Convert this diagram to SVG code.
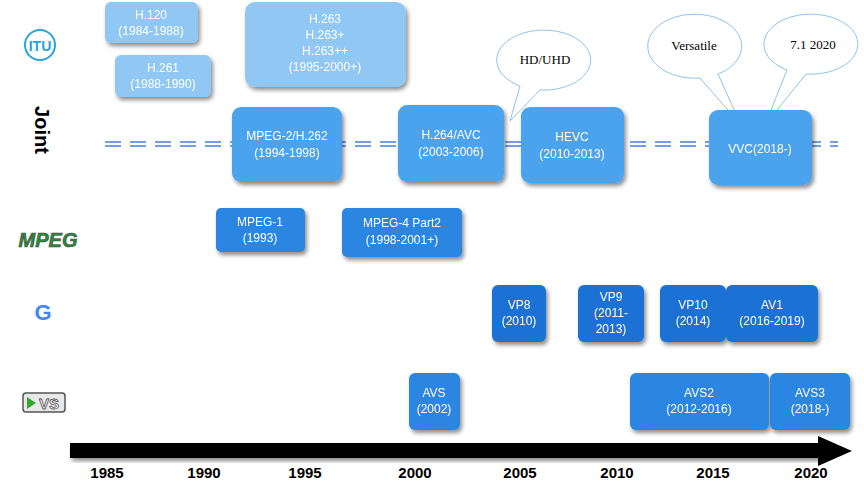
<svg xmlns="http://www.w3.org/2000/svg" width="864" height="493" viewBox="0 0 864 493">
<defs>
<filter id="sh" x="-20%" y="-20%" width="150%" height="150%"><feDropShadow dx="2" dy="3" stdDeviation="2" flood-color="#000" flood-opacity="0.45"/></filter>
</defs>
<style>
.t{font-family:"Liberation Sans",Arial,sans-serif;font-size:12px;fill:#fff;text-anchor:middle}
.l1{fill:#91c7f3}.l2{fill:#4ca3ee}.l3{fill:#2b86e0}.l4{fill:#1f72d4}
.c{fill:#fff;stroke:#8cc4ee;stroke-width:1}
.ct{font-family:"Liberation Serif",serif;font-size:13px;fill:#000;text-anchor:middle}
.y{font-family:"Liberation Sans",Arial,sans-serif;font-size:15px;font-weight:bold;fill:#000;text-anchor:middle}
.d{stroke:#4a7fe0;stroke-width:1.5;stroke-dasharray:16,9}
</style>
<g id="logos">
<circle cx="40" cy="45" r="15" fill="none" stroke="#29a3d8" stroke-width="2"/>
<text x="40" y="51" font-family="Liberation Sans,sans-serif" font-size="14" font-weight="bold" fill="#29a3d8" text-anchor="middle">ITU</text>
<text x="40" y="130" font-family="Liberation Sans,sans-serif" font-size="20" font-weight="bold" fill="#000" text-anchor="middle" transform="rotate(90 40 130)" dominant-baseline="middle">Joint</text>
<text x="48" y="247" font-family="Liberation Sans,sans-serif" font-size="20" font-weight="bold" font-style="italic" fill="#2a8a3a" stroke="#444" stroke-width="0.6" text-anchor="middle">MPEG</text>
<text x="43" y="320" font-family="Liberation Sans,sans-serif" font-size="22" font-weight="bold" fill="#4285f4" text-anchor="middle">G</text>
<rect x="23" y="393" width="42" height="19" rx="3" fill="#e8e8e8" stroke="#555" stroke-width="1.5"/>
<polygon points="27,397 36,403 27,409" fill="#2fa82f"/>
<text x="49" y="409" font-family="Liberation Sans,sans-serif" font-size="15" font-weight="bold" fill="#fff" stroke="#555" stroke-width="0.8" text-anchor="middle">VS</text>
</g>
<g id="connectors">
<line class="d" x1="105" y1="142" x2="838" y2="142"/>
<line class="d" x1="105" y1="146" x2="838" y2="146"/>
<rect x="70" y="443" width="752" height="15" fill="#000" filter="url(#sh)"/>
<polygon points="818,436 852,451 818,466" fill="#000"/>
</g>
<g id="callouts">
<path class="c" d="M520,86 A47,30 0 1 1 540,90 L510,121 Z"/>
<text class="ct" x="545" y="64" font-family="Liberation Sans,sans-serif">HD/UHD</text>
<path class="c" d="M700,78 A47,32 0 1 1 718,74 L741,125 Z"/>
<text class="ct" x="694" y="50">Versatile</text>
<path class="c" d="M787,70 A47,30 0 1 1 806,74 L765,125 Z"/>
<text class="ct" x="813" y="49">7.1 2020</text>
</g>
<g filter="url(#sh)">
<g id="h120"><rect class="l1" x="105" y="2" width="93" height="41" rx="6"/><text class="t" x="151" y="19">H.120</text><text class="t" x="151" y="35">(1984-1988)</text></g>
<g id="h261"><rect class="l1" x="115" y="55" width="96" height="42" rx="6"/><text class="t" x="163" y="72">H.261</text><text class="t" x="163" y="88">(1988-1990)</text></g>
<g id="h263"><rect class="l1" x="245" y="2" width="161" height="85" rx="10"/><text class="t" x="325" y="23">H.263</text><text class="t" x="325" y="39">H.263+</text><text class="t" x="325" y="55">H.263++</text><text class="t" x="325" y="71">(1995-2000+)</text></g>
<g id="mpeg2"><rect class="l2" x="232" y="107" width="110" height="75" rx="9"/><text class="t" x="287" y="140">MPEG-2/H.262</text><text class="t" x="287" y="157">(1994-1998)</text></g>
<g id="h264"><rect class="l2" x="398" y="105" width="106" height="77" rx="9"/><text class="t" x="451" y="139">H.264/AVC</text><text class="t" x="451" y="156">(2003-2006)</text></g>
<g id="hevc"><rect class="l2" x="521" y="107" width="103" height="76" rx="9"/><text class="t" x="572" y="141">HEVC</text><text class="t" x="572" y="158">(2010-2013)</text></g>
<g id="vvc"><rect class="l2" x="709" y="110" width="103" height="75" rx="9"/><text class="t" x="760" y="153">VVC(2018-)</text></g>
<g id="mpeg1"><rect class="l3" x="216" y="208" width="89" height="44" rx="5"/><text class="t" x="260" y="226">MPEG-1</text><text class="t" x="260" y="242">(1993)</text></g>
<g id="mpeg4"><rect class="l3" x="342" y="208" width="120" height="49" rx="5"/><text class="t" x="402" y="227">MPEG-4 Part2</text><text class="t" x="402" y="244">(1998-2001+)</text></g>
<g id="vp8"><rect class="l4" x="492" y="285" width="54" height="57" rx="6"/><text class="t" x="519" y="309">VP8</text><text class="t" x="519" y="325">(2010)</text></g>
<g id="vp9"><rect class="l4" x="578" y="285" width="66" height="57" rx="6"/><text class="t" x="611" y="301">VP9</text><text class="t" x="611" y="317">(2011-</text><text class="t" x="611" y="333">2013)</text></g>
<g id="vp10"><rect class="l4" x="660" y="285" width="66" height="57" rx="6"/><text class="t" x="693" y="309">VP10</text><text class="t" x="693" y="325">(2014)</text></g>
<g id="av1"><rect class="l4" x="726" y="285" width="92" height="57" rx="6"/><text class="t" x="772" y="309">AV1</text><text class="t" x="772" y="325">(2016-2019)</text></g>
<g id="avs"><rect class="l3" x="409" y="373" width="51" height="57" rx="6"/><text class="t" x="434" y="397">AVS</text><text class="t" x="434" y="413">(2002)</text></g>
<g id="avs2"><rect class="l3" x="630" y="373" width="139" height="57" rx="6"/><text class="t" x="699" y="397">AVS2</text><text class="t" x="699" y="413">(2012-2016)</text></g>
<g id="avs3"><rect class="l3" x="770" y="373" width="80" height="57" rx="6"/><text class="t" x="810" y="397">AVS3</text><text class="t" x="810" y="413">(2018-)</text></g>
</g>
<g id="years">
<text class="y" x="107" y="478">1985</text><text class="y" x="204" y="478">1990</text><text class="y" x="305" y="478">1995</text><text class="y" x="415" y="478">2000</text><text class="y" x="520" y="478">2005</text><text class="y" x="617" y="478">2010</text><text class="y" x="713" y="478">2015</text><text class="y" x="811" y="478">2020</text>
</g>
</svg>
